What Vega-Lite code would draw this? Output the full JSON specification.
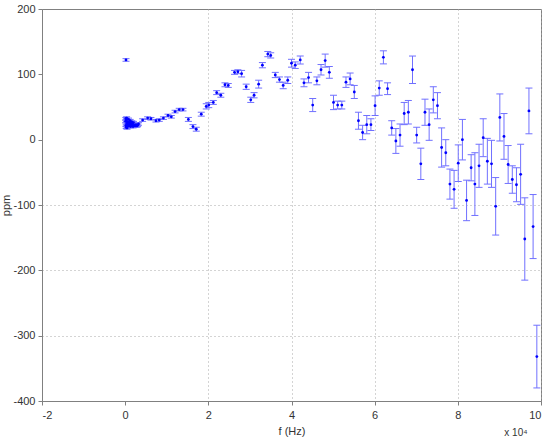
{
  "$schema": "https://vega.github.io/schema/vega-lite/v6.json",
  "width": 499,
  "height": 392,
  "autosize": {"type": "none"},
  "padding": {"left": 42, "top": 9, "right": 9, "bottom": 37},
  "background": "white",
  "config": {
    "view": {"stroke": "#808080", "strokeWidth": 1},
    "font": "Liberation Sans",
    "axis": {
      "labelFont": "Liberation Sans",
      "labelFontSize": 11,
      "labelColor": "#333333",
      "titleFont": "Liberation Sans",
      "titleFontSize": 11,
      "titleFontWeight": "normal",
      "titleColor": "#333333",
      "domainColor": "#808080",
      "tickColor": "#808080",
      "gridColor": "#a8a8a8",
      "gridDash": [1, 3],
      "tickSize": 4
    }
  },
  "title": {
    "text": "x 10⁴",
    "orient": "bottom",
    "anchor": "end",
    "fontSize": 10,
    "fontWeight": "normal",
    "color": "#333333",
    "font": "Liberation Sans",
    "offset": -8,
    "dx": -14
  },
  "data": {
    "values": [
      {"f": 200, "ppm": 122, "err": 2},
      {"f": 100, "ppm": 28, "err": 2},
      {"f": 150, "ppm": 32, "err": 2},
      {"f": 200, "ppm": 22, "err": 2},
      {"f": 250, "ppm": 19, "err": 2},
      {"f": 300, "ppm": 30, "err": 2},
      {"f": 350, "ppm": 33, "err": 2},
      {"f": 400, "ppm": 25, "err": 2},
      {"f": 450, "ppm": 18, "err": 2},
      {"f": 500, "ppm": 20, "err": 2},
      {"f": 600, "ppm": 27, "err": 2},
      {"f": 700, "ppm": 23, "err": 2},
      {"f": 800, "ppm": 31, "err": 2},
      {"f": 900, "ppm": 21, "err": 2},
      {"f": 1000, "ppm": 26, "err": 2},
      {"f": 1100, "ppm": 24, "err": 2},
      {"f": 1200, "ppm": 29, "err": 2},
      {"f": 1300, "ppm": 20, "err": 2},
      {"f": 1400, "ppm": 25, "err": 2},
      {"f": 1500, "ppm": 22, "err": 2},
      {"f": 1600, "ppm": 27, "err": 2},
      {"f": 1700, "ppm": 21, "err": 2},
      {"f": 1800, "ppm": 24, "err": 2},
      {"f": 1900, "ppm": 20, "err": 2},
      {"f": 2000, "ppm": 26, "err": 2},
      {"f": 2200, "ppm": 22, "err": 2},
      {"f": 2400, "ppm": 21, "err": 2},
      {"f": 2600, "ppm": 23, "err": 2},
      {"f": 2800, "ppm": 21, "err": 2},
      {"f": 3000, "ppm": 22, "err": 2},
      {"f": 3200, "ppm": 24, "err": 2},
      {"f": 4200, "ppm": 30, "err": 2},
      {"f": 5400, "ppm": 33, "err": 2},
      {"f": 6200, "ppm": 32, "err": 2},
      {"f": 7400, "ppm": 29, "err": 2},
      {"f": 8200, "ppm": 30, "err": 2},
      {"f": 9200, "ppm": 33, "err": 2},
      {"f": 10300, "ppm": 37, "err": 2},
      {"f": 11100, "ppm": 35, "err": 2},
      {"f": 12000, "ppm": 43, "err": 2},
      {"f": 13000, "ppm": 46, "err": 2},
      {"f": 13900, "ppm": 46, "err": 2},
      {"f": 15200, "ppm": 31, "err": 3},
      {"f": 16300, "ppm": 20, "err": 3},
      {"f": 17100, "ppm": 16, "err": 3},
      {"f": 18300, "ppm": 39, "err": 3},
      {"f": 19500, "ppm": 51, "err": 4},
      {"f": 20100, "ppm": 53, "err": 4},
      {"f": 21200, "ppm": 57, "err": 3},
      {"f": 22000, "ppm": 72, "err": 3},
      {"f": 23000, "ppm": 68, "err": 3},
      {"f": 24000, "ppm": 84, "err": 3},
      {"f": 24800, "ppm": 83, "err": 3},
      {"f": 26300, "ppm": 103, "err": 3},
      {"f": 27100, "ppm": 104, "err": 3},
      {"f": 28000, "ppm": 101, "err": 5},
      {"f": 29100, "ppm": 81, "err": 4},
      {"f": 30200, "ppm": 61, "err": 4},
      {"f": 31000, "ppm": 68, "err": 4},
      {"f": 32100, "ppm": 85, "err": 6},
      {"f": 33000, "ppm": 114, "err": 4},
      {"f": 34300, "ppm": 131, "err": 4},
      {"f": 35000, "ppm": 129, "err": 4},
      {"f": 36100, "ppm": 99, "err": 4},
      {"f": 37100, "ppm": 92, "err": 4},
      {"f": 38000, "ppm": 83, "err": 5},
      {"f": 39100, "ppm": 91, "err": 5},
      {"f": 40000, "ppm": 117, "err": 6},
      {"f": 40900, "ppm": 114, "err": 5},
      {"f": 42100, "ppm": 122, "err": 6},
      {"f": 43000, "ppm": 87, "err": 6},
      {"f": 44100, "ppm": 95, "err": 8},
      {"f": 45100, "ppm": 53, "err": 10},
      {"f": 46100, "ppm": 90, "err": 6},
      {"f": 47100, "ppm": 107, "err": 8},
      {"f": 48100, "ppm": 121, "err": 10},
      {"f": 49100, "ppm": 103, "err": 9},
      {"f": 50100, "ppm": 57, "err": 11},
      {"f": 51100, "ppm": 53, "err": 6},
      {"f": 52100, "ppm": 53, "err": 6},
      {"f": 53100, "ppm": 88, "err": 8},
      {"f": 54100, "ppm": 93, "err": 9},
      {"f": 55100, "ppm": 73, "err": 10},
      {"f": 56100, "ppm": 29, "err": 13},
      {"f": 57100, "ppm": 11, "err": 11},
      {"f": 58100, "ppm": 23, "err": 14},
      {"f": 59100, "ppm": 23, "err": 9},
      {"f": 60100, "ppm": 52, "err": 15},
      {"f": 61100, "ppm": 79, "err": 11},
      {"f": 62100, "ppm": 126, "err": 10},
      {"f": 63100, "ppm": 78, "err": 9},
      {"f": 64100, "ppm": 18, "err": 11},
      {"f": 65100, "ppm": -2, "err": 19},
      {"f": 66100, "ppm": 7, "err": 17},
      {"f": 67100, "ppm": 40, "err": 17},
      {"f": 68100, "ppm": 42, "err": 18},
      {"f": 69100, "ppm": 107, "err": 21},
      {"f": 70100, "ppm": 7, "err": 12},
      {"f": 71100, "ppm": -37, "err": 24},
      {"f": 72100, "ppm": 42, "err": 20},
      {"f": 73100, "ppm": 23, "err": 24},
      {"f": 74100, "ppm": 61, "err": 20},
      {"f": 75100, "ppm": 52, "err": 20},
      {"f": 76100, "ppm": -12, "err": 30},
      {"f": 77100, "ppm": -20, "err": 20},
      {"f": 78100, "ppm": -68, "err": 23},
      {"f": 79100, "ppm": -76, "err": 29},
      {"f": 80100, "ppm": -36, "err": 28},
      {"f": 81100, "ppm": 0, "err": 31},
      {"f": 82100, "ppm": -93, "err": 31},
      {"f": 83200, "ppm": -43, "err": 20},
      {"f": 84100, "ppm": -68, "err": 48},
      {"f": 85100, "ppm": -40, "err": 33},
      {"f": 86100, "ppm": 3, "err": 29},
      {"f": 87100, "ppm": -33, "err": 35},
      {"f": 88100, "ppm": -37, "err": 36},
      {"f": 89100, "ppm": -102, "err": 44},
      {"f": 90100, "ppm": 34, "err": 36},
      {"f": 91100, "ppm": 5, "err": 35},
      {"f": 92100, "ppm": -38, "err": 29},
      {"f": 93100, "ppm": -61, "err": 21},
      {"f": 94100, "ppm": -69, "err": 26},
      {"f": 95100, "ppm": -53, "err": 46},
      {"f": 96100, "ppm": -152, "err": 63},
      {"f": 97100, "ppm": 44, "err": 35},
      {"f": 98100, "ppm": -133, "err": 49},
      {"f": 99000, "ppm": -332, "err": 48}
    ]
  },
  "encoding": {
    "x": {
      "field": "f",
      "type": "quantitative",
      "scale": {"domain": [-20000, 100000], "nice": false, "zero": false},
      "axis": {
        "title": "f (Hz)",
        "values": [-20000, 0, 20000, 40000, 60000, 80000, 100000],
        "labelExpr": "toString(datum.value / 10000)",
        "labelPadding": 4,
        "titlePadding": 5,
        "gridOpacity": {"condition": {"test": "datum.value == 0", "value": 0}, "value": 1}
      }
    },
    "y": {
      "field": "ppm",
      "type": "quantitative",
      "scale": {"domain": [-400, 200], "nice": false, "zero": false},
      "axis": {
        "title": "ppm",
        "values": [-400, -300, -200, -100, 0, 100, 200],
        "labelExpr": "toString(datum.value)",
        "labelPadding": 3,
        "titlePadding": 1,
        "gridOpacity": {"condition": {"test": "datum.value >= 0", "value": 0}, "value": 1}
      }
    }
  },
  "layer": [
    {
      "mark": {
        "type": "errorbar",
        "color": "#7070ff",
        "opacity": 1,
        "ticks": {"size": 7, "color": "#7070ff"},
        "rule": {"strokeWidth": 1}
      },
      "encoding": {
        "yError": {"field": "err"}
      }
    },
    {
      "mark": {"type": "point", "filled": true, "color": "#0000ff", "size": 8, "opacity": 1},
      "encoding": {}
    }
  ]
}
